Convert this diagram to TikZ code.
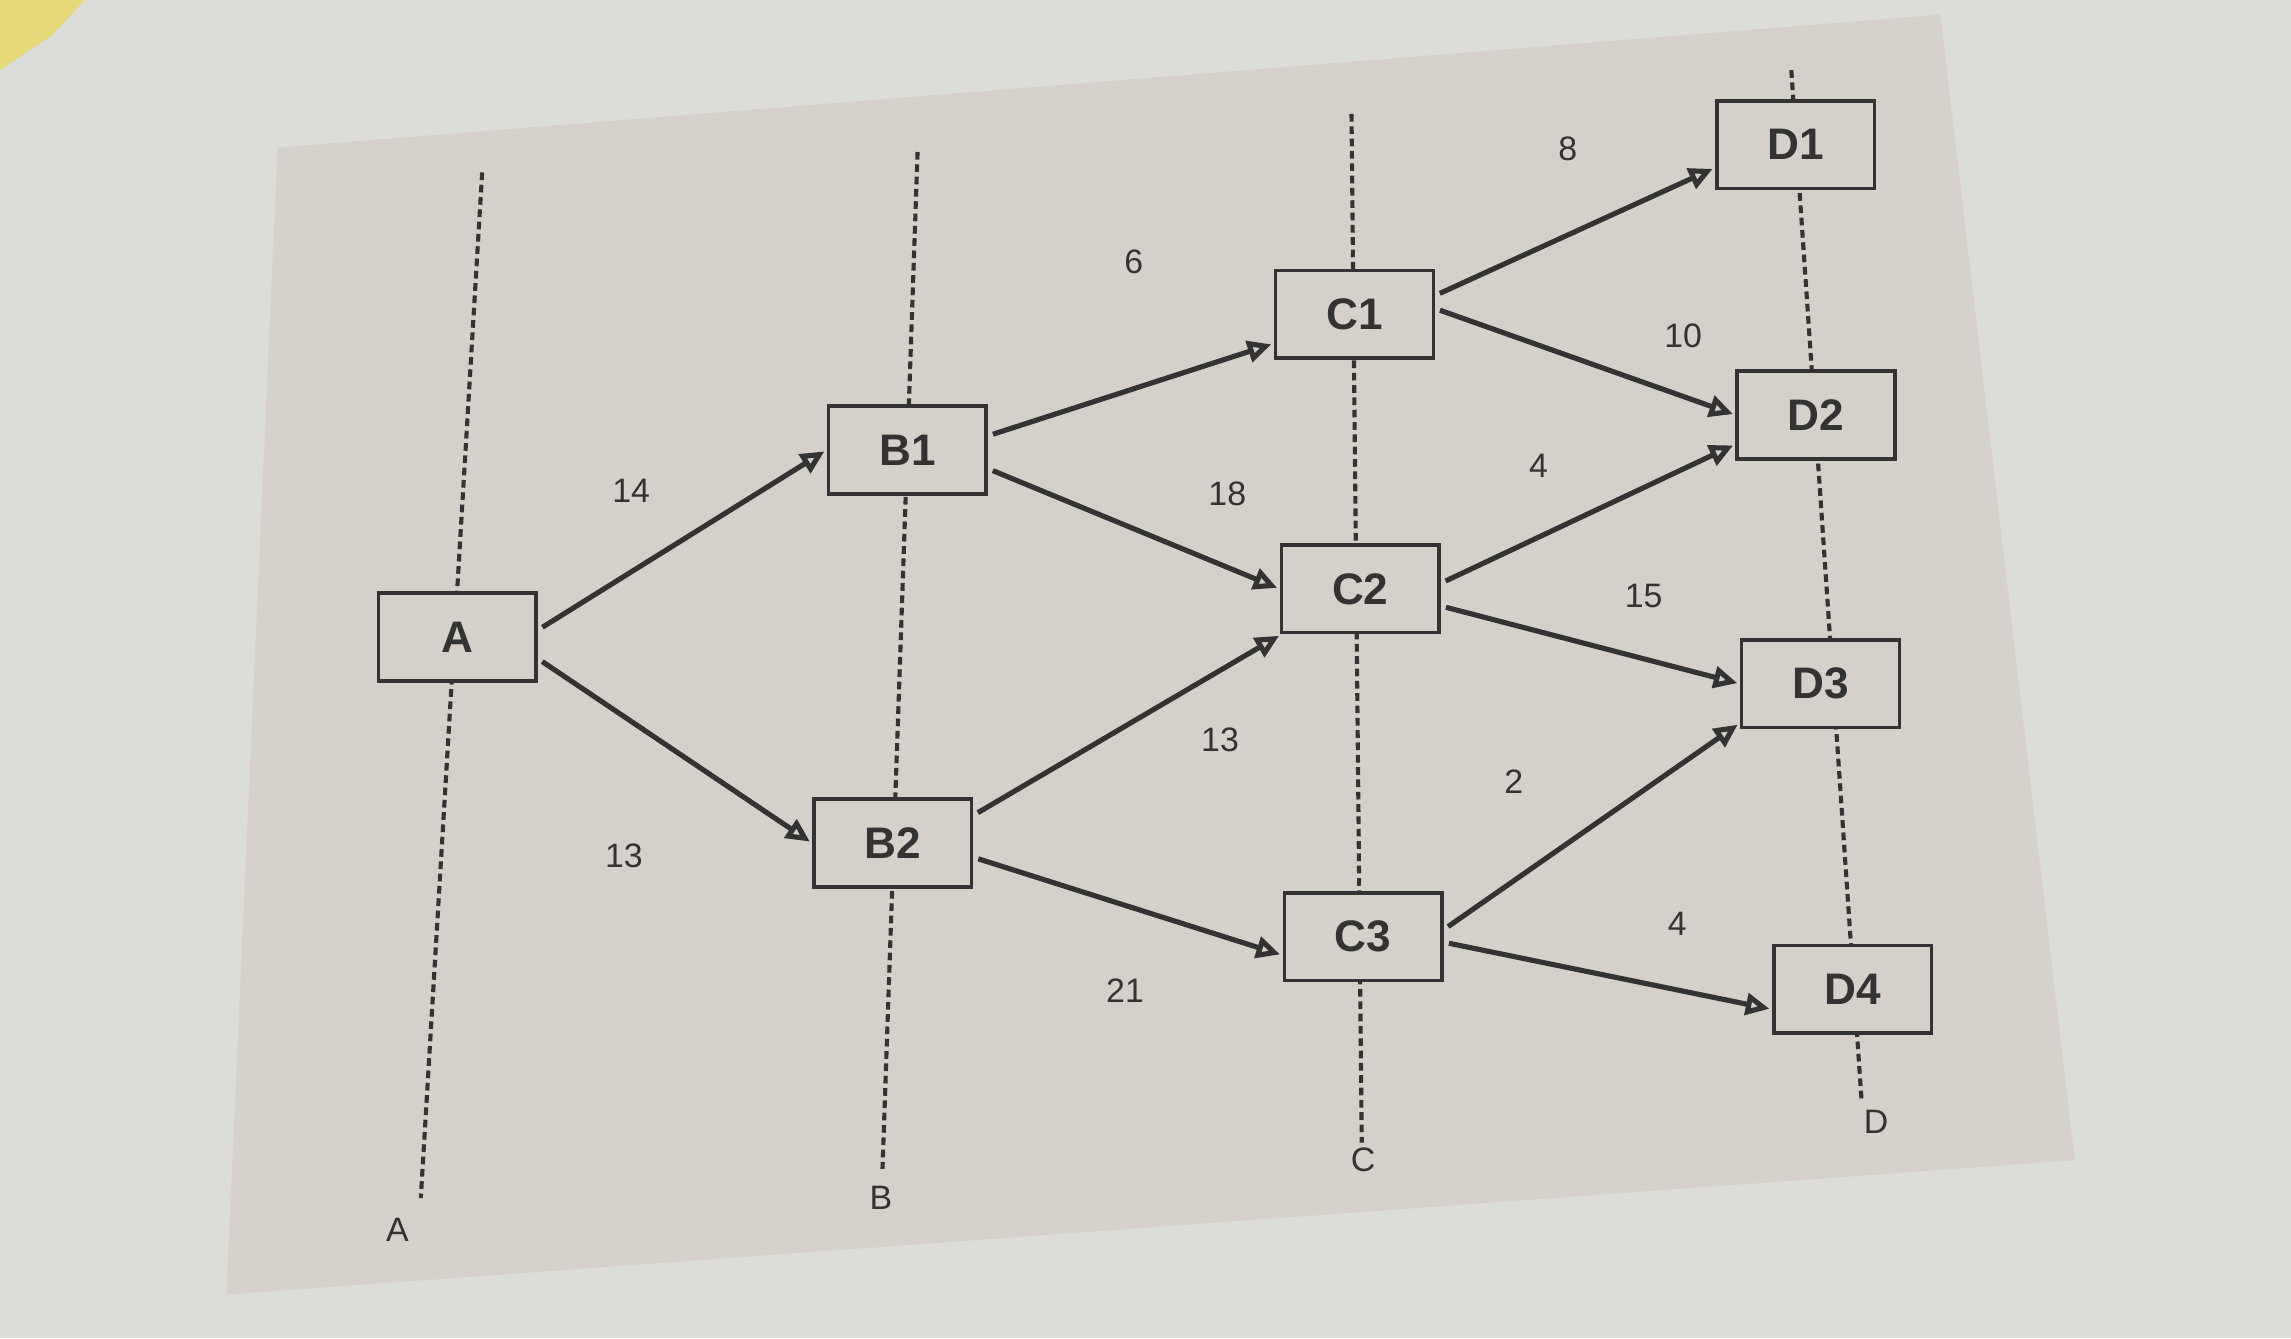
\documentclass[tikz,border=0pt]{standalone}
\usepackage{fontspec}
\setmainfont{Liberation Sans}
\usetikzlibrary{arrows.meta,positioning}

\definecolor{pagegrey}{HTML}{DCDCD9}
\definecolor{printgrey}{HTML}{D5D1CA}
\definecolor{inkgrey}{HTML}{333333}
\definecolor{notepad}{HTML}{E4D877}

\tikzset{
  stage/.style={draw=inkgrey, line width=0.7pt, fill=printgrey, minimum width=10.8mm,
    minimum height=6mm, inner sep=0pt, font=\bfseries\fontsize{8.6}{9}\selectfont, text=inkgrey},
  flow/.style={draw=inkgrey, line width=1pt, -{Triangle[open,length=4.6pt,width=4.2pt]}, shorten >=0.5pt, shorten <=1pt},
  cost/.style={font=\fontsize{6.6}{7}\selectfont, text=inkgrey},
  level/.style={draw=inkgrey, line width=0.8pt, dash pattern=on 1.5pt off 0.9pt},
  tag/.style={font=\fontsize{6.6}{7}\selectfont, text=inkgrey}
}

\begin{document}
\begin{tikzpicture}[x=0.1mm,y=-0.1mm]
  \useasboundingbox (0,0) rectangle (1568,916);
  % page and printed figure
  \fill[pagegrey] (0,0) rectangle (1568,916);
  \fill[notepad] (0,0) -- (58,0) -- (36,24) -- (0,48) -- cycle;
  \fill[printgrey] (190,101) -- (1328,10) -- (1420,794) -- (155,886) -- cycle;

  % stage columns
  \coordinate (topA) at (330,118);  \coordinate (botA) at (288,820);
  \coordinate (topB) at (628,104);  \coordinate (botB) at (604,800);
  \coordinate (topC) at (925,78);   \coordinate (botC) at (932,782);
  \coordinate (topD) at (1226,48);  \coordinate (botD) at (1274,752);
  \foreach \col in {A,B,C,D}
    \draw[level] (top\col) -- (bot\col);

  \node[tag] (labA) at (272,842) {A};
  \node[tag] (labB) at (603,820) {B};
  \node[tag] (labC) at (933,794) {C};
  \node[tag] (labD) at (1284,768) {D};

  % states
  \node[stage] (A)  at (313,436) {A};
  \node[stage] (B1) at (621,308) {B1};
  \node[stage] (B2) at (611,577) {B2};
  \node[stage] (C1) at (927,215) {C1};
  \node[stage] (C2) at (931,403) {C2};
  \node[stage] (C3) at (933,641) {C3};
  \node[stage] (D1) at (1229,99) {D1};
  \node[stage] (D2) at (1243,284) {D2};
  \node[stage] (D3) at (1246,468) {D3};
  \node[stage] (D4) at (1268,677) {D4};

  % transitions
  \draw[flow] (A.5)    -- (B1.west);
  \draw[flow] (A.-15)  -- (B2.west);
  \draw[flow] (B1.10)  -- (C1.-160);
  \draw[flow] (B1.-13) -- (C2.west);
  \draw[flow] (B2.19)  -- (C2.-150);
  \draw[flow] (B2.-10) -- (C3.-167);
  \draw[flow] (C1.13)  -- (D1.-164);
  \draw[flow] (C1.4)   -- (D2.west);
  \draw[flow] (C2.4)   -- (D2.-160);
  \draw[flow] (C2.-12) -- (D3.west);
  \draw[flow] (C3.5)   -- (D3.-154);
  \draw[flow] (C3.-4)  -- (D4.-166);

  % costs
  \node[cost] (wAB1)  at (432,336) {14};
  \node[cost] (wAB2)  at (427,586) {13};
  \node[cost] (wB1C1) at (776,179) {6};
  \node[cost] (wB1C2) at (840,338) {18};
  \node[cost] (wB2C2) at (835,506) {13};
  \node[cost] (wB2C3) at (770,678) {21};
  \node[cost] (wC1D1) at (1073,102) {8};
  \node[cost] (wC1D2) at (1152,230) {10};
  \node[cost] (wC2D2) at (1053,319) {4};
  \node[cost] (wC2D3) at (1125,408) {15};
  \node[cost] (wC3D3) at (1036,535) {2};
  \node[cost] (wC3D4) at (1148,632) {4};
\end{tikzpicture}
\end{document}
